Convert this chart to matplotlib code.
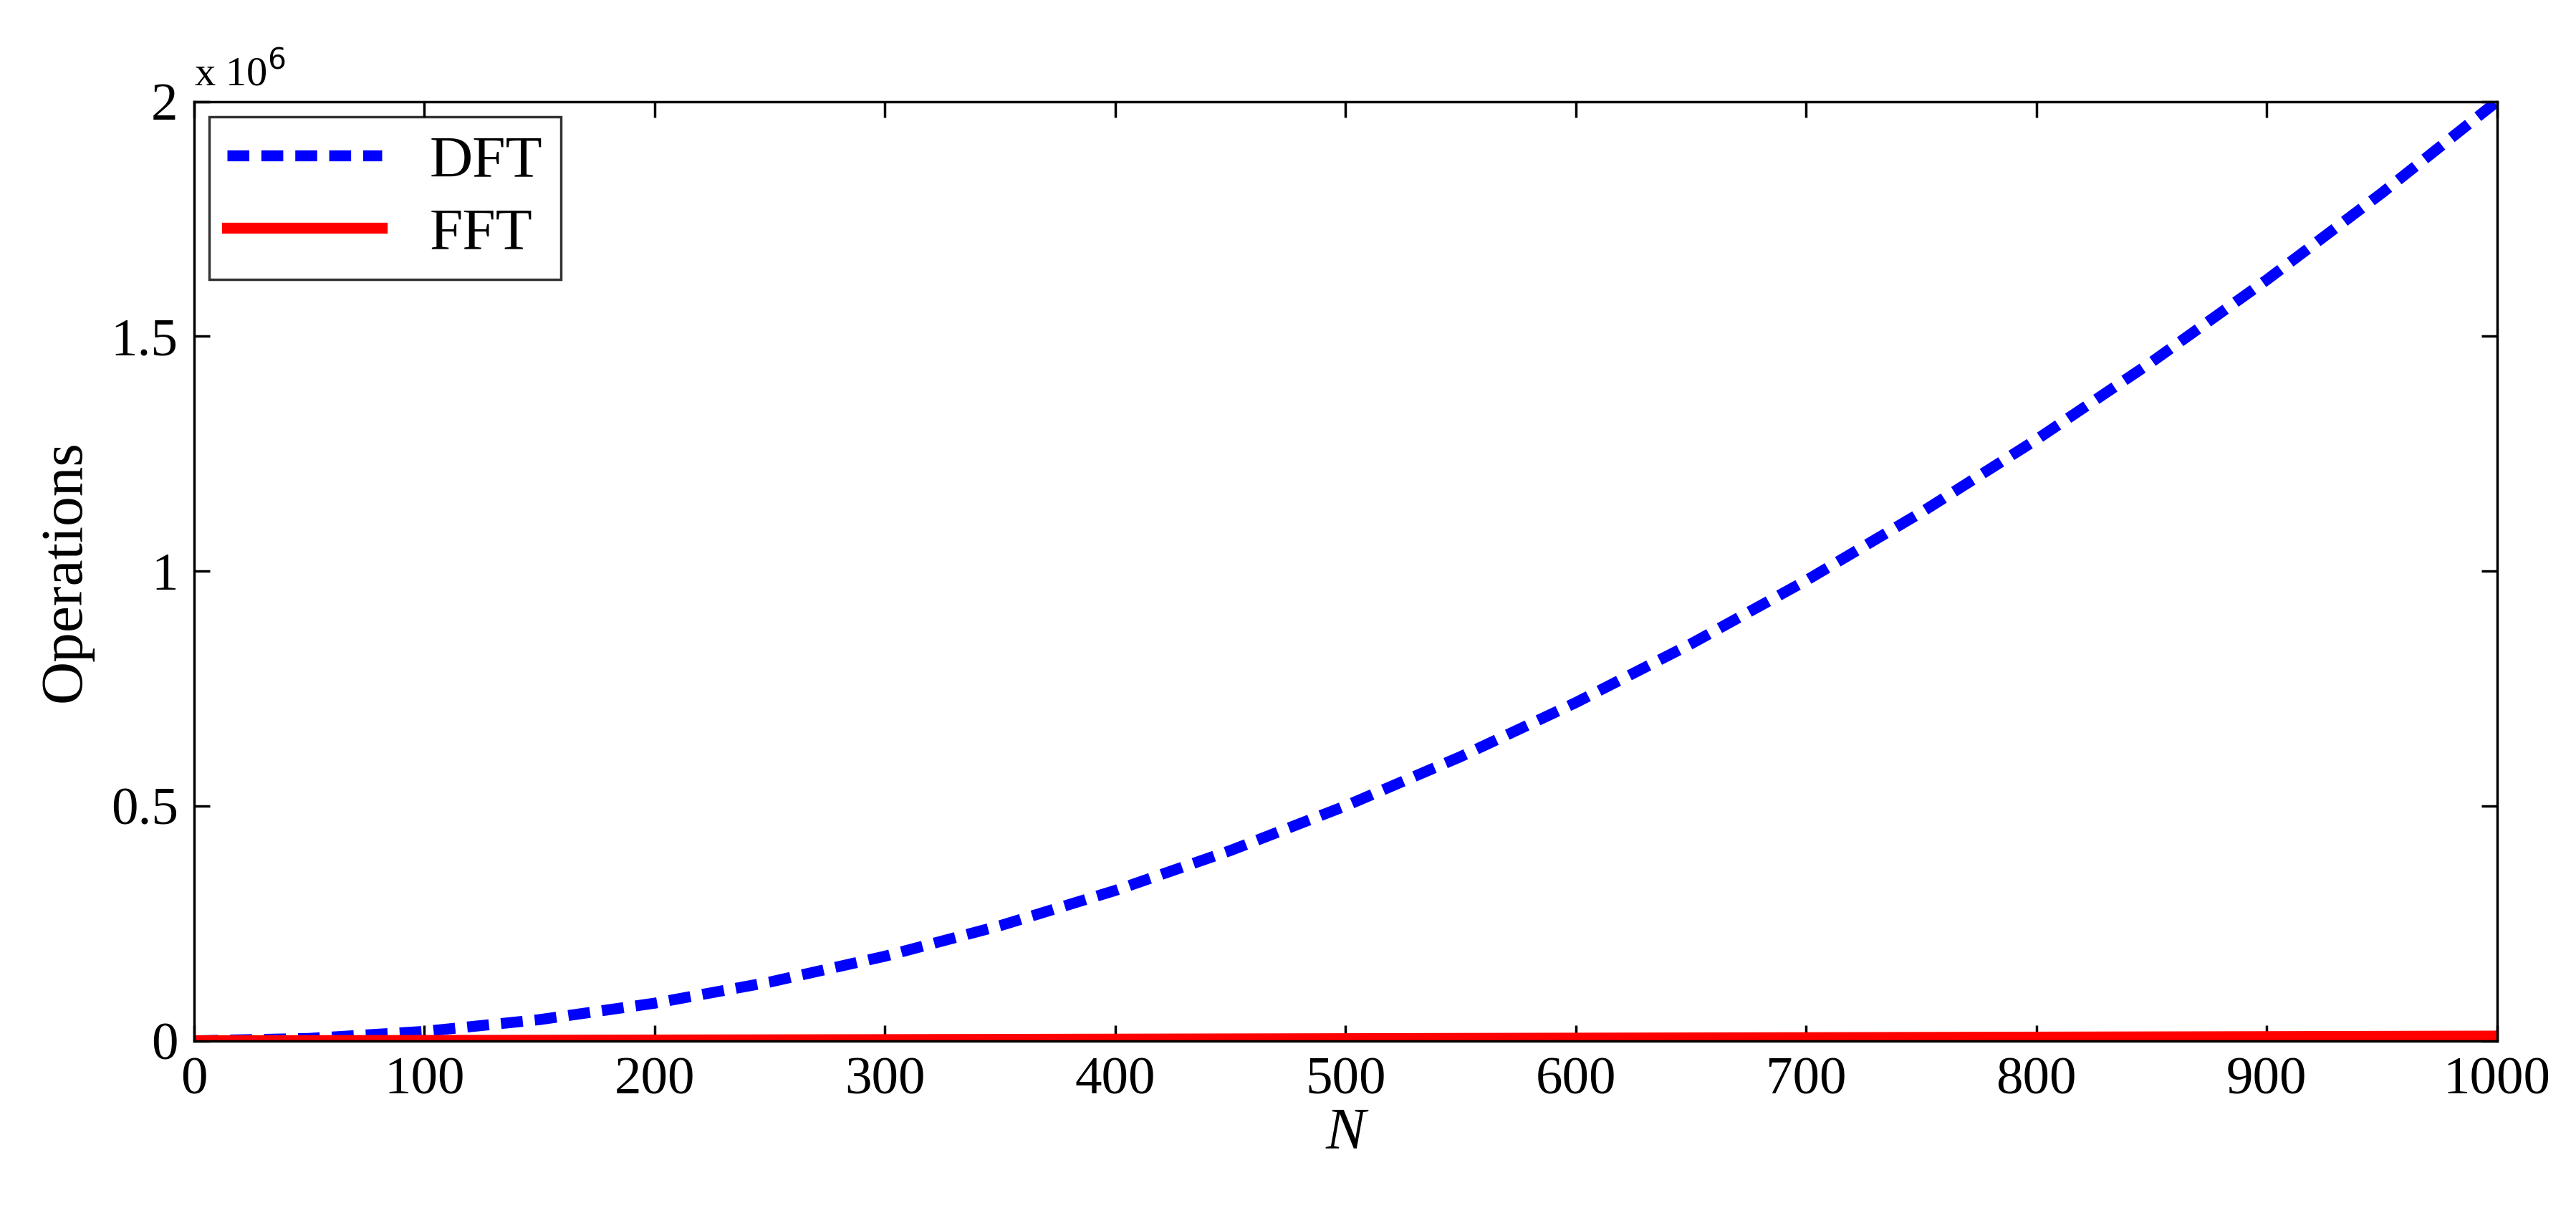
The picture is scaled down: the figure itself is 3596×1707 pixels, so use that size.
import matplotlib.pyplot as plt
import numpy as np

FONT = {'family': 'Liberation Serif', 'size': 54}

# values
N = [1, 50, 100, 150, 200, 250, 300, 350, 400, 450, 500, 550, 600, 650, 700, 750, 800, 850, 900, 950, 1000]
DFT = [2, 5000, 20000, 45000, 80000, 125000, 180000, 245000, 320000, 405000, 500000, 605000,
       720000, 845000, 980000, 1125000, 1280000, 1445000, 1620000, 1805000, 2000000]
FFT = [0, 280, 660, 1080, 1530, 1990, 2470, 2960, 3460, 3970, 4480, 5010, 5540, 6070, 6620,
       7160, 7720, 8270, 8830, 9400, 9970]

fig = plt.figure(figsize=(35.96, 17.07), dpi=100)
ax = fig.add_axes([0.0753, 0.149, 0.894, 0.768])
ax.plot(N, DFT, color='blue', linestyle='--', linewidth=11, dashes=(2.0, 1.1), label='DFT')
ax.plot(N, FFT, color='red', linewidth=11, label='FFT')
ax.set_xlim(0, 1000)
ax.set_ylim(0, 2e6)
ax.set_xticks(np.arange(0, 1001, 100))
ax.set_yticks([0, 0.5e6, 1e6, 1.5e6, 2e6])
ax.set_yticklabels(['0', '0.5', '1', '1.5', '2'], **FONT)
ax.set_xticklabels([str(v) for v in range(0, 1001, 100)], **FONT)
ax.tick_params(direction='in', top=True, right=True, length=16, width=2.5, pad=16)
for s in ax.spines.values():
    s.set_linewidth(2.5)
ax.set_xlabel('N', fontsize=60, family='Liberation Serif', fontstyle='italic', labelpad=2)
ax.set_ylabel('Operations', fontsize=60, family='Liberation Serif', labelpad=18)
fig.text(0.0753, 0.93, r'x 10$^{6}$', fontsize=42, family='Liberation Serif')
leg = ax.legend(loc='upper left', prop={'family': 'Liberation Serif', 'size': 60},
                fancybox=False, edgecolor='black', handlelength=2.6, borderaxespad=0.25,
                labelspacing=0.3, borderpad=0.3)
leg.get_frame().set_linewidth(2.5)
fig.savefig('out.png')
